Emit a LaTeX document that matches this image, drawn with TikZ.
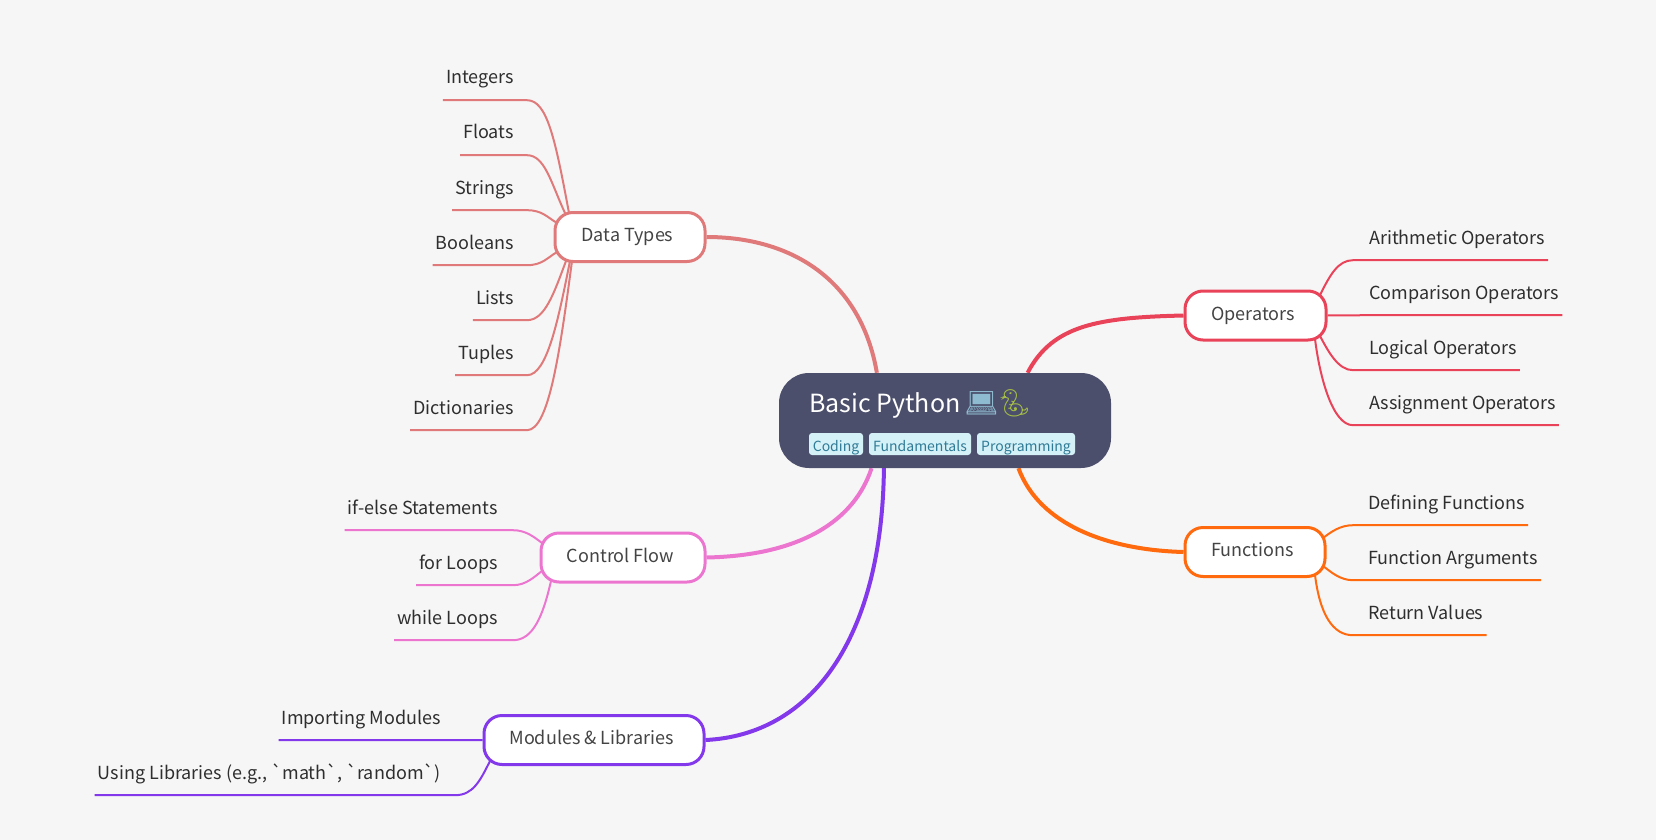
\documentclass[tikz,border=0pt]{standalone}
\usepackage{fontspec}
\usetikzlibrary{backgrounds}
\newfontfamily\mapfont{Noto Sans CJK SC}
\newfontfamily\emojifont{Noto Emoji}
\definecolor{pagecol}{HTML}{F6F6F6}
\definecolor{rootcol}{HTML}{4C4F6B}
\definecolor{tagfill}{HTML}{D5F1F8}
\definecolor{tagtext}{HTML}{2F7B96}
\definecolor{leaftext}{HTML}{2E2E2E}
\definecolor{branchtext}{HTML}{444444}
\definecolor{typescol}{HTML}{E07A7A}
\definecolor{opscol}{HTML}{E9435A}
\definecolor{funcscol}{HTML}{FF6A0F}
\definecolor{flowcol}{HTML}{EC75D0}
\definecolor{modscol}{HTML}{8338EC}
\definecolor{laptopcol}{HTML}{8FBBD0}
\definecolor{snakecol}{HTML}{A5BE45}
\tikzset{
  branchbox/.style={draw, fill=white, line width=3pt, rounded corners=18pt, text=branchtext,
    minimum height=49pt, text height=14pt, text depth=4.5pt, execute at begin node={\hspace*{-5pt}},
    font=\mapfont\fontsize{18}{22}\selectfont},
  leafleft/.style={anchor=base east, text=leaftext, inner xsep=3pt, inner ysep=0pt,
    text depth=16pt, font=\mapfont\fontsize{18}{22}\selectfont},
  leafright/.style={leafleft, anchor=base west},
  tagbox/.style={fill=tagfill, text=tagtext, rounded corners=3pt, inner sep=0pt,
    minimum height=22pt, text height=14.5pt, text depth=0pt, font=\mapfont\fontsize{14}{18}\selectfont},
  mainline/.style={line width=4pt},
  leafline/.style={line width=2pt}
}
\begin{document}
\begin{tikzpicture}[x=1pt, y=-1pt]
  \useasboundingbox (0,0) rectangle (1656,840);

  \node[fill=rootcol, rounded corners=30pt, minimum width=332pt, minimum height=95pt] (root) at (945,420.5) {};
  \node[anchor=base west, inner sep=0pt, text=white, font=\mapfont\fontsize{25}{30}\selectfont] (title) at (809,412)
    {Basic Python\hspace{4pt}{\emojifont\fontsize{27}{30}\selectfont\textcolor{laptopcol}{💻}\hspace{-2pt}\textcolor{snakecol}{🐍}}};
  \node[tagbox, minimum width=54pt] (tagcoding) at (836,444) {Coding};
  \node[tagbox, minimum width=102pt] (tagfund) at (920,444) {Fundamentals};
  \node[tagbox, minimum width=98pt] (tagprog) at (1026,444) {Programming};

  \node[branchbox, draw=typescol, minimum width=150pt] (types) at (630,237) {Data Types};
  \node[branchbox, draw=opscol, minimum width=141pt] (ops) at (1255.5,315.5) {Operators};
  \node[branchbox, draw=funcscol, minimum width=140pt] (funcs) at (1255,552) {Functions};
  \node[branchbox, draw=flowcol, minimum width=164pt] (flow) at (623,557.5) {Control Flow};
  \node[branchbox, draw=modscol, minimum width=220pt] (mods) at (594,740) {Modules \& Libraries};

  \node[leafleft] (integers) at (517,84) {Integers};
  \node[leafleft] (floats) at (517,139) {Floats};
  \node[leafleft] (strings) at (517,194) {Strings};
  \node[leafleft] (booleans) at (517,249) {Booleans};
  \node[leafleft] (lists) at (517,304) {Lists};
  \node[leafleft] (tuples) at (517,359) {Tuples};
  \node[leafleft] (dicts) at (517,414) {Dictionaries};

  \node[leafright] (arith) at (1366,244) {Arithmetic Operators};
  \node[leafright] (compare) at (1366,299) {Comparison Operators};
  \node[leafright] (logical) at (1366,354) {Logical Operators};
  \node[leafright] (assign) at (1366,409) {Assignment Operators};

  \node[leafright] (defining) at (1365,509) {Defining Functions};
  \node[leafright] (arguments) at (1365,564) {Function Arguments};
  \node[leafright] (returns) at (1365,619) {Return Values};

  \node[leafleft] (ifelse) at (501,514) {if-else Statements};
  \node[leafleft] (forloops) at (501,569) {for Loops};
  \node[leafleft] (whileloops) at (501,624) {while Loops};

  \node[leafleft] (importing) at (444,724) {Importing Modules};
  \node[leafleft] (using) at (444,779) {Using Libraries (e.g., `math`, `random`)};

  \begin{pgfonlayer}{background}
    \fill[pagecol] (0,0) rectangle (1656,840);

    \draw[mainline, typescol] (types.east) .. controls +(85,0) and +(-16,-93) .. (root.145.5);
    \draw[mainline, opscol] (ops.west) .. controls +(-85,2) and +(25,-48) .. (root.30.7);
    \draw[mainline, funcscol] (funcs.west) .. controls +(-75,-2) and +(21,57) .. (root.327.3);
    \draw[mainline, flowcol] (flow.east) .. controls +(95,-2) and +(-17,52) .. (root.213);
    \draw[mainline, modscol] (mods.east) .. controls +(105,-5) and +(-2,172) .. (root.218.4);

    \draw[leafline, typescol] (integers.south west) -- (integers.south east) -- ++(10,0) .. controls +(20,0) and +(-14,-75) .. ([shift={(-61,-24)}]types.center);
    \draw[leafline, typescol] (floats.south west) -- (floats.south east) -- ++(10,0) .. controls +(18,0) and +(-14,-30) .. ([shift={(-65,-24)}]types.center);
    \draw[leafline, typescol] (strings.south west) -- (strings.south east) -- ++(10,0) .. controls +(15,0) and +(-10,-6) .. ([shift={(-73,-14)}]types.center);
    \draw[leafline, typescol] (booleans.south west) -- (booleans.south east) -- ++(10,0) .. controls +(15,0) and +(-10,6) .. ([shift={(-73,15)}]types.center);
    \draw[leafline, typescol] (lists.south west) -- (lists.south east) -- ++(10,0) .. controls +(18,0) and +(-12,32) .. ([shift={(-64,24)}]types.center);
    \draw[leafline, typescol] (tuples.south west) -- (tuples.south east) -- ++(10,0) .. controls +(20,0) and +(-12,60) .. ([shift={(-60,24)}]types.center);
    \draw[leafline, typescol] (dicts.south west) -- (dicts.south east) -- ++(10,0) .. controls +(22,0) and +(-12,90) .. ([shift={(-58,24)}]types.center);

    \draw[leafline, opscol] (arith.south east) -- (arith.south west) -- ++(-13,0) .. controls +(-15,0) and +(10,-20) .. ([shift={(64.5,-20.5)}]ops.center);
    \draw[leafline, opscol] (compare.south east) -- (compare.south west) -- (ops.east);
    \draw[leafline, opscol] (logical.south east) -- (logical.south west) -- ++(-13,0) .. controls +(-15,0) and +(8,15) .. ([shift={(64.5,20.5)}]ops.center);
    \draw[leafline, opscol] (assign.south east) -- (assign.south west) -- ++(-13,0) .. controls +(-20,0) and +(5,40) .. ([shift={(59.5,23.5)}]ops.center);

    \draw[leafline, funcscol] (defining.south east) -- (defining.south west) -- ++(-12,0) .. controls +(-13,0) and +(8,-6) .. ([shift={(68,-14)}]funcs.center);
    \draw[leafline, funcscol] (arguments.south east) -- (arguments.south west) -- ++(-12,0) .. controls +(-13,0) and +(8,6) .. ([shift={(68,14)}]funcs.center);
    \draw[leafline, funcscol] (returns.south east) -- (returns.south west) -- ++(-12,0) .. controls +(-20,0) and +(5,40) .. ([shift={(60,23)}]funcs.center);

    \draw[leafline, flowcol] (ifelse.south west) -- (ifelse.south east) -- ++(12,0) .. controls +(13,0) and +(-8,-6) .. ([shift={(-81,-14.5)}]flow.center);
    \draw[leafline, flowcol] (forloops.south west) -- (forloops.south east) -- ++(12,0) .. controls +(13,0) and +(-8,6) .. ([shift={(-81,13.5)}]flow.center);
    \draw[leafline, flowcol] (whileloops.south west) -- (whileloops.south east) -- ++(12,0) .. controls +(20,0) and +(-8,35) .. ([shift={(-72,23.5)}]flow.center);

    \draw[leafline, modscol] (importing.south west) -- (mods.west);
    \draw[leafline, modscol] (using.south west) -- (using.south east) -- ++(11,0) .. controls +(18,0) and +(-10,20) .. ([shift={(-104,21)}]mods.center);
  \end{pgfonlayer}
\end{tikzpicture}
\end{document}
